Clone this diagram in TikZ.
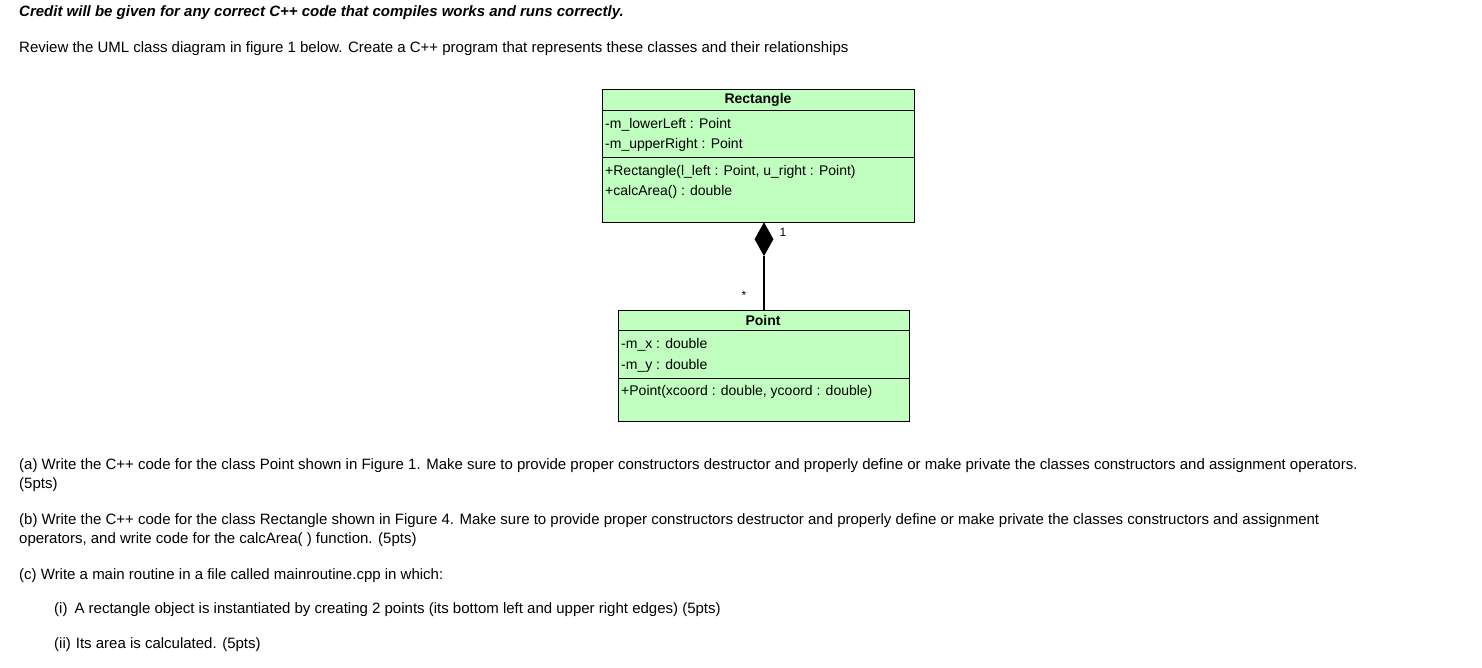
\documentclass[tikz,border=0pt]{standalone}
\usepackage{fontspec}
\setmainfont{Liberation Sans}
\usetikzlibrary{shapes.geometric}
\definecolor{umlgreen}{RGB}{192,255,192}
\begin{document}
\begin{tikzpicture}
[x=1pt, y=-1pt, every node/.style={inner sep=0pt},
 txt/.style={anchor=west, font=\fontsize{15}{18}\selectfont},
 uml/.style={anchor=west, font=\fontsize{14}{17}\selectfont},
 umlbox/.style={draw=black, fill=umlgreen, line width=0.8pt}]
\useasboundingbox [fill=white] (0,0) rectangle (1482,667);
\node (credit) [txt, font=\fontsize{15}{18}\selectfont\bfseries\itshape] at (19, 12.5) {Credit will be given for any correct C++ code that compiles works and runs correctly.};
\node (review) [txt] at (19, 48.5) {Review the UML class diagram in figure 1 below. Create a C++ program that represents these classes and their relationships};
% Rectangle class
\draw [umlbox] (602,89) rectangle (914,222);
\draw [line width=0.8pt] (602,110) -- (914,110) (602,157) -- (914,157);
\node (rect) [font=\fontsize{14}{17}\selectfont\bfseries] at (758, 99.5) {Rectangle};
\node (ra1) [uml] at (605, 124.5) {-m\_lowerLeft : Point};
\node (ra2) [uml] at (605, 145) {-m\_upperRight : Point};
\node (rm1) [uml] at (605, 171.5) {+Rectangle(l\_left : Point, u\_right : Point)};
\node (rm2) [uml] at (605, 192) {+calcArea() : double};
% Point class
\draw [umlbox] (618,310) rectangle (909,421);
\draw [line width=0.8pt] (618,330) -- (909,330) (618,378) -- (909,378);
\node (point) [font=\fontsize{14}{17}\selectfont\bfseries] at (763, 320) {Point};
\node (pa1) [uml] at (621, 345) {-m\_x : double};
\node (pa2) [uml] at (621, 366) {-m\_y : double};
\node (pm1) [uml] at (621, 391.5) {+Point(xcoord : double, ycoord : double)};
% composition
\coordinate (ptop) at (764,310);
\node (dia) [diamond, fill=black, minimum width=19pt, minimum height=34pt, anchor=north] at (764,222) {};
\draw [line width=1.2pt] (dia.south) -- (ptop);
\node (one) [font=\fontsize{12}{14}\selectfont] at (783, 232) {1};
\node (many) [font=\fontsize{12}{14}\selectfont] at (744, 295) {*};
% questions
\node (qa) [txt] at (19, 465.5) {(a) Write the C++ code for the class Point shown in Figure 1. Make sure to provide proper constructors destructor and properly define or make private the classes constructors and assignment operators.};
\node (qa2) [txt] at (19, 484.5) {(5pts)};
\node (qb) [txt] at (19, 520.5) {(b) Write the C++ code for the class Rectangle shown in Figure 4. Make sure to provide proper constructors destructor and properly define or make private the classes constructors and assignment};
\node (qb2) [txt] at (19, 539.5) {operators, and write code for the calcArea( ) function. (5pts)};
\node (qc) [txt] at (19, 575.5) {(c) Write a main routine in a file called mainroutine.cpp in which:};
\node (qi) [txt] at (54, 609.5) {(i)\hspace{7pt}A rectangle object is instantiated by creating 2 points (its bottom left and upper right edges) (5pts)};
\node (qii) [txt] at (54, 644.5) {(ii)\hspace{5pt}Its area is calculated. (5pts)};
\end{tikzpicture}
\end{document}
